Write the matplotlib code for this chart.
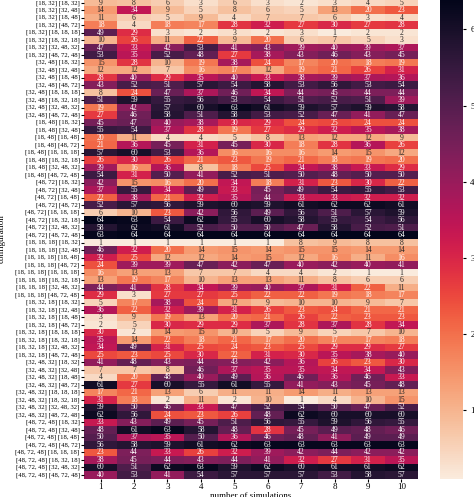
import numpy as np
import matplotlib
matplotlib.use("Agg")
import matplotlib.pyplot as plt
import seaborn as sns

parts = ["[18, 32]", "[32, 48]", "[18, 48]", "[48, 72]",
         "[18, 18, 18]", "[18, 32, 18]", "[32, 48, 32]", "[48, 72, 48]"]
row_labels = [f"{a} {b}" for a in parts for b in parts]
col_labels = [str(i) for i in range(1, 11)]

values = [
    [9, 8, 6, 3, 6, 3, 2, 3, 4, 5],
    [14, 34, 9, 5, 8, 6, 5, 13, 20, 23],
    [11, 6, 5, 9, 4, 7, 7, 6, 3, 4],
    [18, 4, 18, 17, 28, 32, 27, 30, 27, 28],
    [49, 29, 3, 2, 3, 2, 3, 1, 2, 2],
    [10, 26, 11, 22, 9, 20, 6, 7, 5, 3],
    [47, 33, 42, 53, 41, 43, 39, 40, 39, 37],
    [53, 35, 52, 48, 27, 38, 43, 46, 43, 45],
    [15, 28, 10, 19, 38, 24, 17, 20, 18, 19],
    [12, 12, 7, 16, 17, 12, 19, 21, 26, 31],
    [28, 40, 29, 35, 40, 33, 38, 39, 37, 36],
    [43, 52, 51, 57, 54, 58, 53, 56, 53, 54],
    [8, 24, 47, 37, 46, 34, 44, 45, 44, 44],
    [51, 59, 55, 56, 53, 54, 51, 52, 51, 39],
    [19, 42, 57, 60, 63, 61, 59, 57, 59, 58],
    [27, 46, 58, 51, 58, 53, 52, 47, 41, 47],
    [45, 47, 40, 38, 30, 29, 24, 25, 24, 24],
    [55, 54, 37, 28, 19, 27, 29, 32, 35, 38],
    [20, 11, 4, 4, 5, 8, 13, 12, 12, 9],
    [21, 36, 45, 31, 45, 30, 18, 28, 36, 26],
    [57, 60, 53, 36, 16, 16, 16, 14, 15, 12],
    [26, 30, 26, 21, 23, 19, 21, 18, 19, 20],
    [39, 16, 36, 8, 18, 25, 34, 38, 33, 29],
    [54, 31, 50, 41, 52, 51, 50, 48, 50, 50],
    [42, 15, 16, 20, 34, 18, 31, 23, 30, 22],
    [37, 55, 34, 49, 33, 45, 49, 54, 55, 53],
    [22, 38, 21, 32, 35, 44, 33, 33, 32, 32],
    [52, 57, 56, 59, 60, 59, 61, 62, 62, 61],
    [6, 10, 23, 42, 56, 49, 56, 51, 57, 59],
    [64, 63, 54, 62, 55, 60, 58, 55, 54, 56],
    [58, 62, 61, 52, 50, 50, 47, 58, 52, 51],
    [63, 64, 64, 64, 64, 64, 64, 64, 64, 64],
    [1, 1, 1, 1, 1, 1, 8, 9, 8, 8],
    [46, 32, 20, 14, 15, 14, 15, 15, 14, 14],
    [32, 25, 12, 12, 14, 15, 12, 16, 11, 16],
    [24, 39, 39, 47, 42, 47, 40, 42, 40, 41],
    [16, 13, 13, 7, 7, 4, 4, 2, 1, 1],
    [13, 19, 17, 10, 13, 13, 11, 8, 6, 6],
    [44, 41, 28, 34, 39, 40, 37, 31, 22, 11],
    [29, 3, 27, 27, 25, 22, 22, 19, 18, 17],
    [5, 17, 38, 24, 12, 9, 10, 10, 9, 7],
    [36, 22, 32, 39, 31, 26, 23, 24, 21, 21],
    [3, 9, 19, 13, 20, 21, 26, 22, 23, 23],
    [2, 5, 30, 29, 29, 37, 28, 37, 28, 34],
    [30, 2, 14, 15, 10, 5, 9, 5, 7, 10],
    [35, 14, 22, 18, 21, 17, 20, 17, 17, 18],
    [34, 49, 31, 25, 24, 23, 25, 29, 29, 27],
    [25, 23, 25, 30, 22, 31, 30, 35, 38, 40],
    [41, 48, 43, 44, 43, 42, 36, 26, 23, 30],
    [7, 7, 8, 46, 37, 35, 35, 34, 34, 43],
    [4, 20, 48, 40, 49, 36, 46, 36, 46, 33],
    [61, 27, 60, 55, 61, 55, 41, 43, 45, 48],
    [17, 21, 13, 6, 11, 11, 14, 11, 13, 13],
    [31, 18, 2, 11, 2, 10, 1, 4, 10, 15],
    [59, 50, 46, 33, 47, 52, 54, 50, 47, 52],
    [62, 56, 24, 23, 26, 48, 62, 60, 60, 60],
    [33, 43, 49, 45, 51, 56, 55, 59, 56, 55],
    [48, 61, 63, 58, 48, 28, 45, 49, 48, 46],
    [50, 37, 35, 50, 36, 46, 48, 41, 49, 49],
    [56, 58, 59, 61, 62, 63, 63, 63, 63, 63],
    [23, 44, 33, 26, 32, 39, 42, 44, 42, 42],
    [38, 45, 44, 43, 44, 41, 32, 27, 31, 35],
    [60, 51, 62, 63, 59, 62, 60, 61, 61, 62],
    [40, 53, 41, 54, 57, 57, 57, 53, 58, 57],
]
data = np.array(values)

plt.rcParams['font.family'] = ['Liberation Serif', 'DejaVu Serif']
fig = plt.figure(figsize=(4.74, 4.97), dpi=100)
ax = fig.add_axes([0.177, 0.037, 0.705, 0.965])
cax = fig.add_axes([0.928, 0.037, 0.048, 0.965])
sns.heatmap(data, ax=ax, cbar_ax=cax, cmap="rocket_r", annot=True, fmt="d",
            annot_kws={"fontsize": 5.5}, xticklabels=col_labels,
            yticklabels=row_labels, vmin=1, vmax=64)
ax.tick_params(axis='y', labelsize=4.8, length=2, pad=1)
ax.tick_params(axis='x', labelsize=6.5, length=2, pad=1)
ax.set_yticklabels(row_labels, rotation=0)
ax.set_xlabel("number of simulations", fontsize=6.5, labelpad=1)
ax.set_ylabel("configuration", fontsize=6.5, labelpad=2)
ax.yaxis.set_label_coords(-0.235, 0.5)
cax.tick_params(labelsize=6.5, length=2)
fig.savefig("out.png", dpi=100)
